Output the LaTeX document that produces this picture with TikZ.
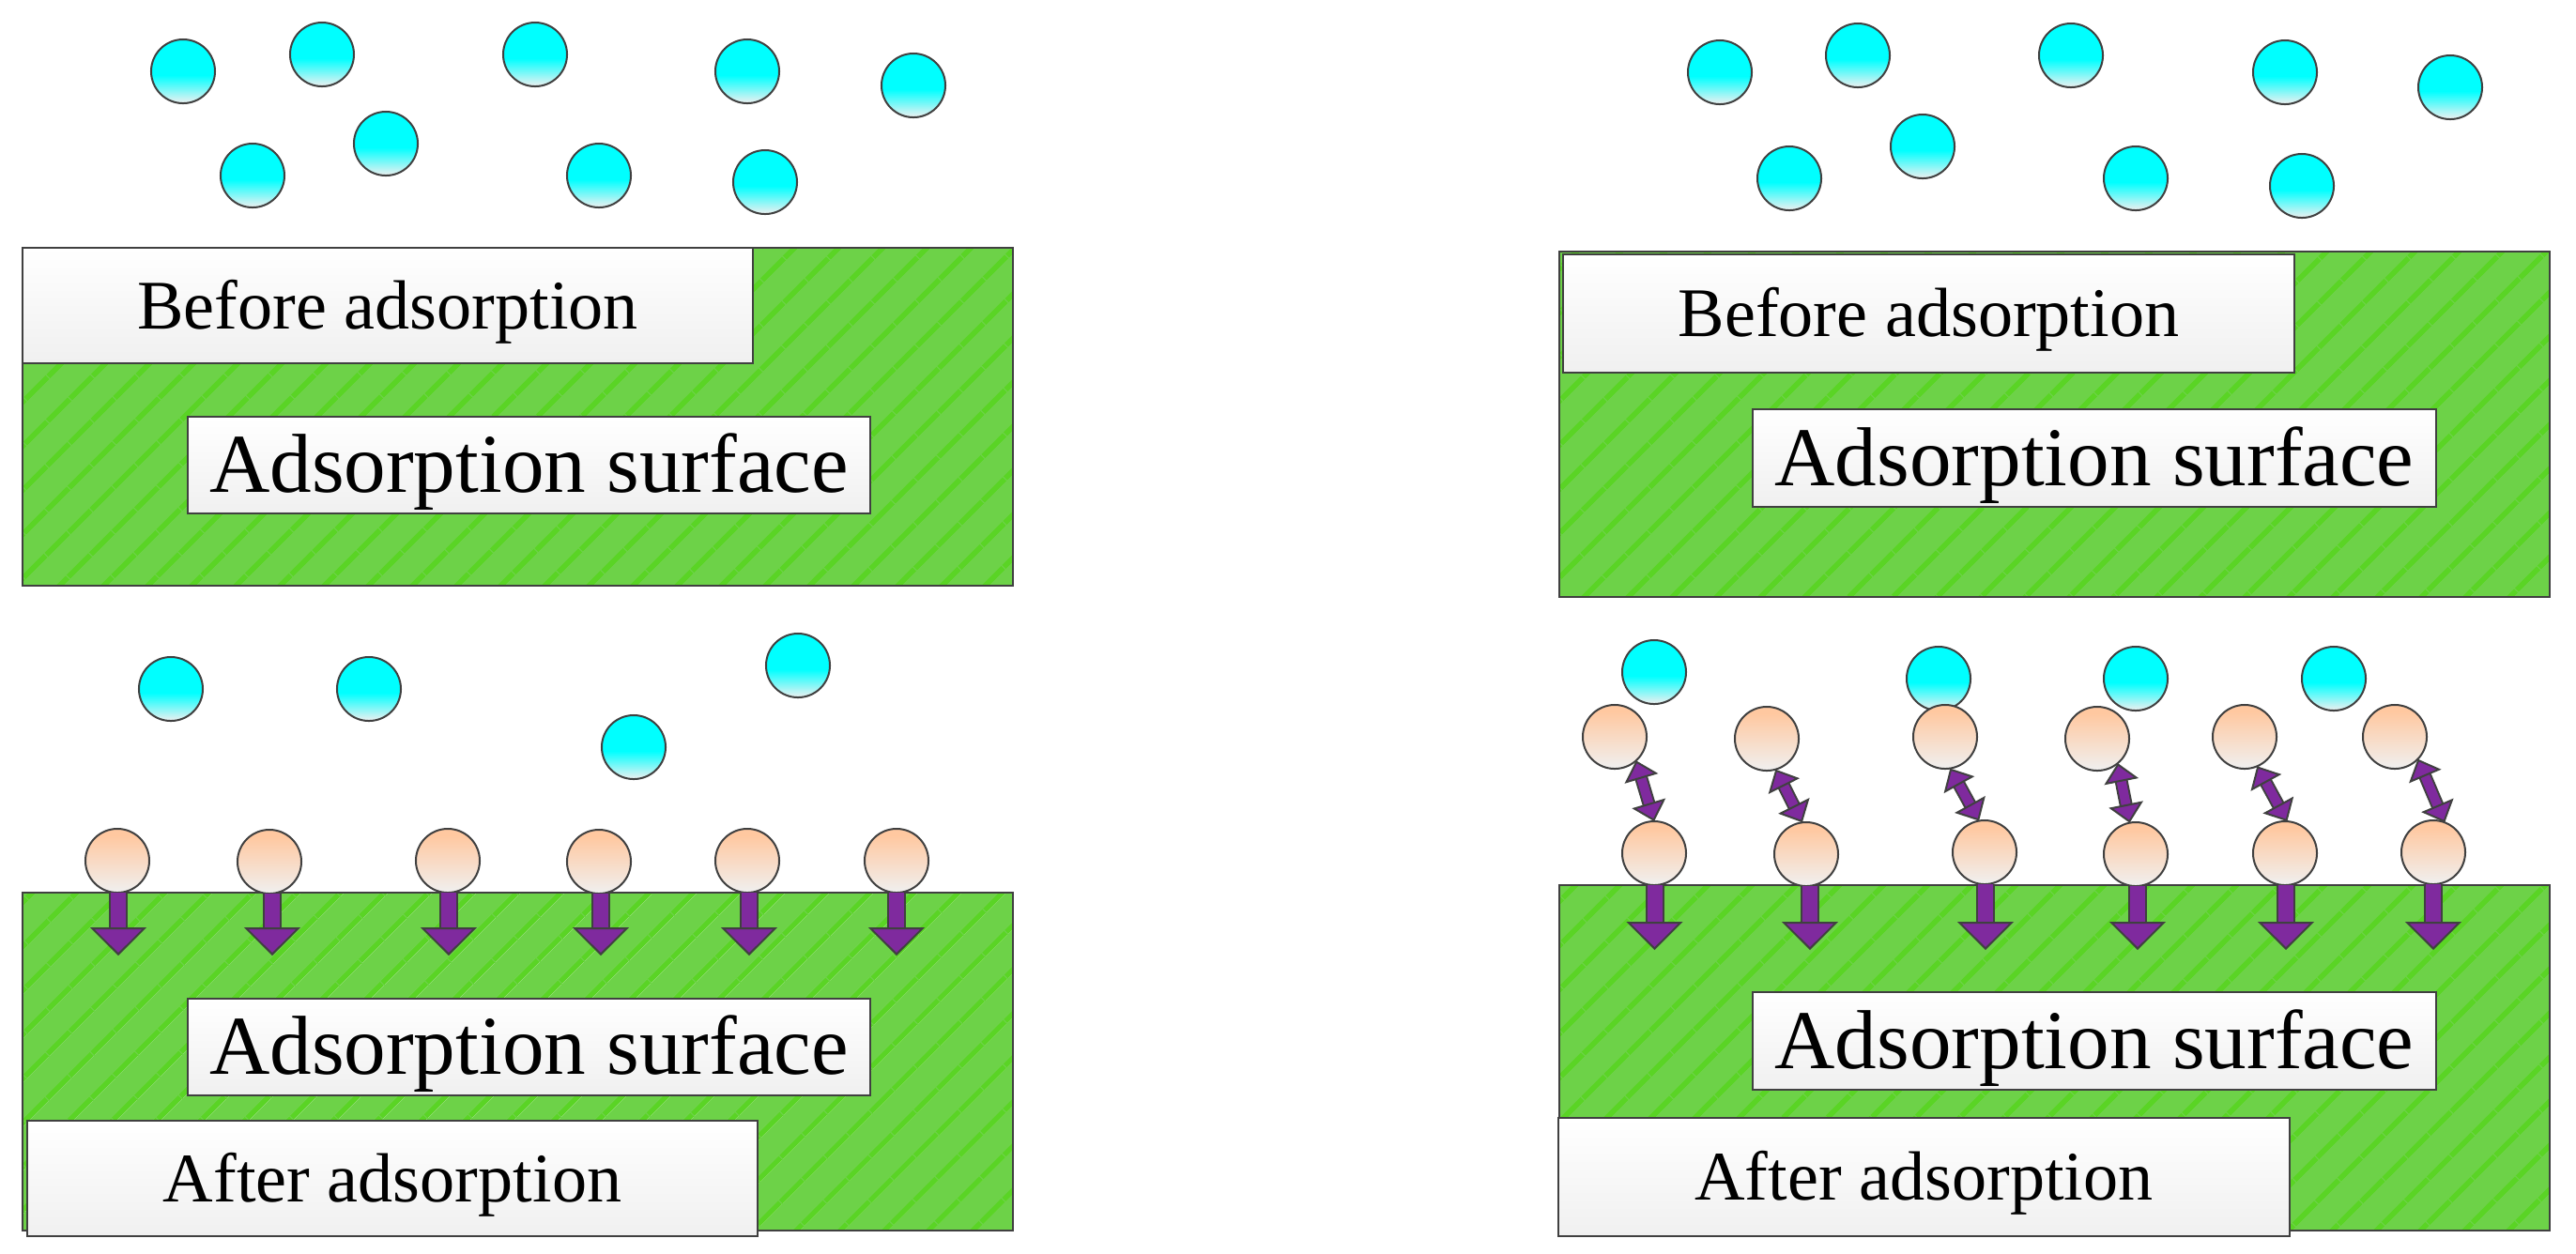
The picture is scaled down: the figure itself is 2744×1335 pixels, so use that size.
\documentclass[tikz,border=0pt]{standalone}
\usepackage{fontspec}
\setmainfont{Liberation Serif}
\usetikzlibrary{arrows.meta,patterns.meta}

\definecolor{edgecol}{HTML}{404040}
\definecolor{grasscol}{HTML}{6DD248}
\definecolor{stripecol}{HTML}{5AD425}
\definecolor{arrowcol}{HTML}{7F2A9E}
\definecolor{gascol}{HTML}{00FFFF}
\definecolor{stuckcol}{HTML}{FFC8A0}
\definecolor{paperend}{HTML}{F0F0F0}

\pgfdeclareverticalshading{gasshade}{100bp}{color(0bp)=(paperend); color(25bp)=(paperend);
  color(47bp)=(gascol); color(100bp)=(gascol)}
\pgfdeclareverticalshading{stuckshade}{100bp}{color(0bp)=(paperend); color(25bp)=(paperend);
  color(70bp)=(stuckcol); color(100bp)=(stuckcol)}
\pgfdeclareverticalshading{tagshade}{100bp}{color(0bp)=(paperend); color(25bp)=(paperend);
  color(75bp)=(white); color(100bp)=(white)}

\tikzset{
  every node/.style = {outer sep=0pt, inner sep=0pt, draw=edgecol, line width=0.02cm},
  surface/.style = {rectangle, minimum width=10.55cm, preaction={fill=grasscol},
    preaction={pattern={Lines[angle=45,distance=0.34cm,line width=0.06cm]}, pattern color=stripecol}},
  gasball/.style = {circle, shading=gasshade, minimum size=0.68cm},
  stuckball/.style = {circle, shading=stuckshade, minimum size=0.68cm},
  nametag/.style = {rectangle, shading=tagshade, minimum height=1.03cm, align=center,
    font=\fontsize{25.35}{30}\selectfont, text height=22pt, text depth=5.5pt},
  headtag/.style = {rectangle, shading=tagshade, minimum width=7.78cm, align=center,
    font=\fontsize{21.1}{26}\selectfont, text height=18pt, text depth=3.8pt},
  downarrow/.style = {draw=edgecol, line width=0.02cm, double=arrowcol, double distance=0.16cm,
    -{Triangle[length=0.30cm,width=0.60cm,fill=arrowcol,line width=0.02cm]}},
  bothways/.style = {draw=edgecol, line width=0.02cm, double=arrowcol, double distance=0.10cm,
    {Triangle[length=0.20cm,width=0.37cm,fill=arrowcol,line width=0.02cm]}-{Triangle[length=0.20cm,width=0.37cm,fill=arrowcol,line width=0.02cm]}}
}

\begin{document}
\begin{tikzpicture}[x=0.01cm, y=-0.01cm]
  \useasboundingbox (0,0) rectangle (2744,1335);

  \node[surface, minimum height=3.60cm] (grassa) at (551.5,444) {};
  \node[surface, minimum height=3.675cm] (grassb) at (2188.5,452.25) {};
  \node[surface, minimum height=3.60cm] (grassc) at (551.5,1131) {};
  \node[surface, minimum height=3.68cm] (grassd) at (2188.5,1127) {};

  \node[headtag, minimum height=1.23cm] (taga) at (413,325.5) {Before adsorption};
  \node[headtag, minimum height=1.26cm] (tagb) at (2054.5,334) {Before adsorption};
  \node[headtag, minimum height=1.23cm] (tagc) at (418,1255.5) {After adsorption};
  \node[headtag, minimum height=1.26cm] (tagd) at (2049.5,1254) {After adsorption};

  \node[nametag, minimum width=7.27cm] (namea) at (563.5,495.5) {Adsorption surface};
  \node[nametag, minimum width=7.27cm, minimum height=1.04cm] (nameb) at (2231,488) {Adsorption surface};
  \node[nametag, minimum width=7.27cm] (namec) at (563.5,1115.5) {Adsorption surface};
  \node[nametag, minimum width=7.27cm, minimum height=1.045cm] (named) at (2231,1109) {Adsorption surface};

  \node[gasball] (gasa1) at (195,76) {};
  \node[gasball] (gasa2) at (343,58) {};
  \node[gasball] (gasa3) at (570,58) {};
  \node[gasball] (gasa4) at (796,76) {};
  \node[gasball] (gasa5) at (973,91) {};
  \node[gasball] (gasa6) at (269,187) {};
  \node[gasball] (gasa7) at (411,153) {};
  \node[gasball] (gasa8) at (638,187) {};
  \node[gasball] (gasa9) at (815,194) {};

  \node[gasball] (gasb1) at (1832,77) {};
  \node[gasball] (gasb2) at (1979,59) {};
  \node[gasball] (gasb3) at (2206,59) {};
  \node[gasball] (gasb4) at (2434,77) {};
  \node[gasball] (gasb5) at (2610,93) {};
  \node[gasball] (gasb6) at (1906,190) {};
  \node[gasball] (gasb7) at (2048,156) {};
  \node[gasball] (gasb8) at (2275,190) {};
  \node[gasball] (gasb9) at (2452,198) {};

  \node[gasball] (gasc1) at (182,734) {};
  \node[gasball] (gasc2) at (393,734) {};
  \node[gasball] (gasc3) at (675,796) {};
  \node[gasball] (gasc4) at (850,709) {};

  \node[gasball] (gasd1) at (1762,716) {};
  \node[gasball] (gasd2) at (2065,723) {};
  \node[gasball] (gasd3) at (2275,723) {};
  \node[gasball] (gasd4) at (2486,723) {};

  \node[stuckball] (lowc1) at (125,917) {};
  \node[stuckball] (lowc2) at (287,918) {};
  \node[stuckball] (lowc3) at (477,917) {};
  \node[stuckball] (lowc4) at (638,918) {};
  \node[stuckball] (lowc5) at (796,917) {};
  \node[stuckball] (lowc6) at (955,917) {};

  \node[stuckball] (lowd1) at (1762,909) {};
  \node[stuckball] (lowd2) at (1924,910) {};
  \node[stuckball] (lowd3) at (2114,908) {};
  \node[stuckball] (lowd4) at (2275,910) {};
  \node[stuckball] (lowd5) at (2434,909) {};
  \node[stuckball] (lowd6) at (2592,908) {};

  \node[stuckball] (highd1) at (1720,785) {};
  \node[stuckball] (highd2) at (1882,787) {};
  \node[stuckball] (highd3) at (2072,785) {};
  \node[stuckball] (highd4) at (2234,787) {};
  \node[stuckball] (highd5) at (2391,785) {};
  \node[stuckball] (highd6) at (2551,785) {};

  \coordinate (tipc1) at (126,1018);
  \coordinate (tipc2) at (290,1018);
  \coordinate (tipc3) at (478,1018);
  \coordinate (tipc4) at (640,1018);
  \coordinate (tipc5) at (798,1018);
  \coordinate (tipc6) at (955,1018);
  \coordinate (tipd1) at (1762.5,1012);
  \coordinate (tipd2) at (1928,1012);
  \coordinate (tipd3) at (2115,1012);
  \coordinate (tipd4) at (2277,1012);
  \coordinate (tipd5) at (2435,1012);
  \coordinate (tipd6) at (2592,1012);

  \draw[downarrow] (tipc1 |- lowc1.south) -- (tipc1);
  \draw[downarrow] (tipc2 |- lowc2.south) -- (tipc2);
  \draw[downarrow] (tipc3 |- lowc3.south) -- (tipc3);
  \draw[downarrow] (tipc4 |- lowc4.south) -- (tipc4);
  \draw[downarrow] (tipc5 |- lowc5.south) -- (tipc5);
  \draw[downarrow] (tipc6 |- lowc6.south) -- (tipc6);
  \draw[downarrow] (tipd1 |- lowd1.south) -- (tipd1);
  \draw[downarrow] (tipd2 |- lowd2.south) -- (tipd2);
  \draw[downarrow] (tipd3 |- lowd3.south) -- (tipd3);
  \draw[downarrow] (tipd4 |- lowd4.south) -- (tipd4);
  \draw[downarrow] (tipd5 |- lowd5.south) -- (tipd5);
  \draw[downarrow] (tipd6 |- lowd6.south) -- (tipd6);

  \draw[bothways] (highd1.-48) -- (lowd1.90);
  \draw[bothways] (highd2.-74) -- (lowd2.97);
  \draw[bothways] (highd3.-81) -- (lowd3.100);
  \draw[bothways] (highd4.-50) -- (lowd4.101);
  \draw[bothways] (highd5.-67) -- (lowd5.86);
  \draw[bothways] (highd6.-44) -- (lowd6.69);
\end{tikzpicture}
\end{document}
